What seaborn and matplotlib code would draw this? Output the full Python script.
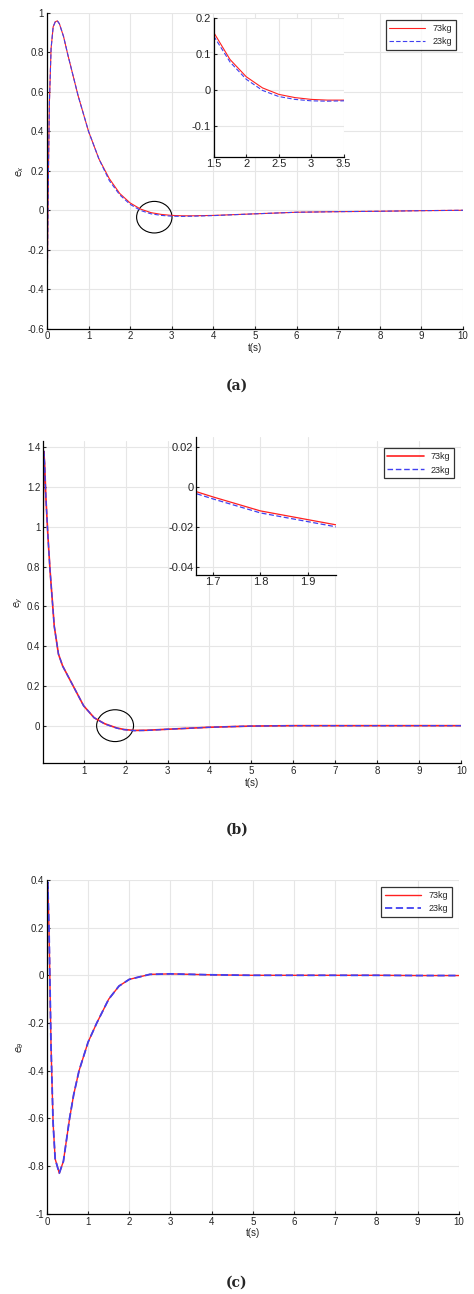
import matplotlib
matplotlib.use("Agg")
import matplotlib.pyplot as plt
from matplotlib.patches import Ellipse
import numpy as np
import seaborn as sns

sns.set_style("whitegrid", {"grid.color": "#E6E6E6"})
plt.rcParams["font.family"] = ["Liberation Sans", "DejaVu Sans"]
plt.rcParams["font.size"] = 7

# --- (a) e_x ---
tx = [0, 0.03, 0.06, 0.1, 0.15, 0.2, 0.25, 0.3, 0.4, 0.5, 0.75, 1.0, 1.25, 1.5, 1.75, 2.0,
      2.25, 2.5, 2.75, 3.0, 3.25, 3.5, 4, 5, 6, 7, 8, 9, 10]
ex_73 = [-0.55, 0.1, 0.55, 0.82, 0.93, 0.955, 0.96, 0.945, 0.88, 0.79, 0.58, 0.40, 0.26, 0.16,
         0.085, 0.037, 0.006, -0.012, -0.021, -0.026, -0.028, -0.028, -0.026, -0.018, -0.01,
         -0.007, -0.005, -0.002, 0.0]
ex_23 = [-0.55, 0.1, 0.55, 0.82, 0.93, 0.955, 0.96, 0.945, 0.88, 0.79, 0.58, 0.40, 0.26, 0.15,
         0.078, 0.03, -0.001, -0.018, -0.026, -0.03, -0.031, -0.03, -0.027, -0.018, -0.01,
         -0.007, -0.005, -0.002, 0.0]

# --- (b) e_y ---
ty = [0.035, 0.05, 0.07, 0.1, 0.15, 0.2, 0.3, 0.4, 0.5, 0.75, 1.0, 1.25, 1.5, 1.7, 1.8, 1.96,
      2.2, 2.5, 3, 4, 5, 6, 7, 8, 9, 10]
ey_73 = [1.0, 1.38, 1.32, 1.15, 0.95, 0.78, 0.5, 0.36, 0.3, 0.2, 0.1, 0.04, 0.01, -0.005, -0.012,
         -0.019, -0.024, -0.023, -0.018, -0.008, -0.002, 0.0, 0.0, 0.0, 0.0, 0.0]
ey_23 = [1.0, 1.38, 1.32, 1.15, 0.95, 0.78, 0.5, 0.36, 0.3, 0.2, 0.1, 0.04, 0.009, -0.006, -0.013,
         -0.020, -0.025, -0.024, -0.018, -0.008, -0.002, 0.0, 0.0, 0.0, 0.0, 0.0]

# --- (c) e_theta ---
tt = [0, 0.02, 0.05, 0.1, 0.15, 0.2, 0.3, 0.4, 0.55, 0.65, 0.78, 1.0, 1.21, 1.5, 1.75, 2.0, 2.5,
      3, 4, 5, 6, 7, 8, 9, 10]
et_73 = [0.25, 0.39, 0.2, -0.3, -0.62, -0.77, -0.83, -0.78, -0.6, -0.5, -0.4, -0.28, -0.2,
         -0.1, -0.045, -0.017, 0.004, 0.006, 0.002, 0.0, 0.0, 0.0, 0.0, -0.001, -0.001]
et_23 = et_73

labels = ["73kg", "23kg"]
RED = "#FF2020"
BLUE = "#4040F0"

fig = plt.figure(figsize=(4.74, 12.94), dpi=100)


def style(ax):
    for s in ["top", "right"]:
        ax.spines[s].set_visible(False)
    for s in ["left", "bottom"]:
        ax.spines[s].set_color("black")
        ax.spines[s].set_linewidth(0.9)
    ax.tick_params(length=2.5, pad=2, labelsize=7, direction="in", left=True, bottom=True)


def pair(ax, t, a, b, lw_r, lw_b, legend=False):
    sns.lineplot(x=t, y=a, ax=ax, color=RED, linewidth=lw_r, label=labels[0] if legend else None)
    sns.lineplot(x=t, y=b, ax=ax, color=BLUE, linewidth=lw_b, linestyle=(0, (4, 2)),
                 label=labels[1] if legend else None)


def legend(ax):
    leg = ax.legend(loc="upper right", fontsize=6.5, frameon=True, fancybox=False,
                    edgecolor="black", handlelength=4, borderaxespad=0.8)
    leg.get_frame().set_linewidth(0.9)


# (a)
ax = fig.add_axes([0.099, 0.746, 0.878, 0.244])
pair(ax, tx, ex_73, ex_23, 0.8, 0.8, legend=True)
ax.set_xlim(0, 10)
ax.set_ylim(-0.6, 1)
ax.set_xticks(range(11))
ax.set_yticks(np.arange(-0.6, 1.01, 0.2))
ax.set_yticklabels(["-0.6", "-0.4", "-0.2", "0", "0.2", "0.4", "0.6", "0.8", "1"])
ax.set_xlabel("t(s)", labelpad=1)
ax.set_ylabel("$e_x$", labelpad=1)
style(ax)
legend(ax)
ax.add_patch(Ellipse((2.58, -0.035), 0.85, 0.16, fill=False, color="black", linewidth=0.8))

ins = fig.add_axes([0.451, 0.879, 0.274, 0.107])
pair(ins, tx, ex_73, ex_23, 0.8, 0.8)
ins.set_xlim(1.5, 3.5)
ins.set_ylim(-0.185, 0.2)
ins.set_xticks([1.5, 2, 2.5, 3, 3.5])
ins.set_xticklabels(["1.5", "2", "2.5", "3", "3.5"])
ins.set_yticks([-0.1, 0, 0.1, 0.2])
ins.set_yticklabels(["-0.1", "0", "0.1", "0.2"])
style(ins)
ins.tick_params(labelsize=8)
fig.text(0.5, 0.699, "(a)", ha="center", fontsize=10, fontweight="bold", family="DejaVu Serif")

# (b)
ax = fig.add_axes([0.091, 0.410, 0.882, 0.249])
pair(ax, ty, ey_73, ey_23, 1.2, 1.0, legend=True)
ax.set_xlim(0.035, 10)
ax.set_ylim(-0.19, 1.43)
ax.set_xticks(range(1, 11))
ax.set_yticks(np.arange(0, 1.41, 0.2))
ax.set_yticklabels(["0", "0.2", "0.4", "0.6", "0.8", "1", "1.2", "1.4"])
ax.set_xlabel("t(s)", labelpad=1)
ax.set_ylabel("$e_y$", labelpad=1)
style(ax)
legend(ax)
ax.add_patch(Ellipse((1.75, 0.0), 0.88, 0.16, fill=False, color="black", linewidth=0.8))

ins = fig.add_axes([0.414, 0.556, 0.295, 0.106])
pair(ins, ty, ey_73, ey_23, 0.9, 0.9)
ins.set_xlim(1.664, 1.96)
ins.set_ylim(-0.044, 0.025)
ins.set_xticks([1.7, 1.8, 1.9])
ins.set_yticks([-0.04, -0.02, 0, 0.02])
ins.set_yticklabels(["-0.04", "-0.02", "0", "0.02"])
style(ins)
ins.tick_params(labelsize=8)
fig.text(0.5, 0.356, "(b)", ha="center", fontsize=10, fontweight="bold", family="DejaVu Serif")

# (c)
ax = fig.add_axes([0.099, 0.062, 0.869, 0.258])
pair(ax, tt, et_73, et_23, 1.0, 1.3, legend=True)
ax.set_xlim(0, 10)
ax.set_ylim(-1, 0.4)
ax.set_xticks(range(11))
ax.set_yticks(np.arange(-1, 0.41, 0.2))
ax.set_yticklabels(["-1", "-0.8", "-0.6", "-0.4", "-0.2", "0", "0.2", "0.4"])
ax.set_xlabel("t(s)", labelpad=1)
ax.set_ylabel(r"$e_\theta$", labelpad=1)
style(ax)
legend(ax)
fig.text(0.5, 0.006, "(c)", ha="center", fontsize=10, fontweight="bold", family="DejaVu Serif")

fig.savefig("out.png", dpi=100)
